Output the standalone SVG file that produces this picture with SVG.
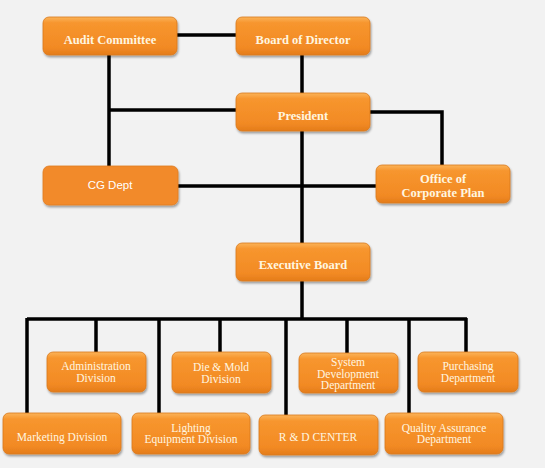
<svg xmlns="http://www.w3.org/2000/svg" width="545" height="468" viewBox="0 0 545 468">
<defs>
<linearGradient id="og" x1="0" y1="0" x2="0" y2="1">
<stop offset="0" stop-color="#fbb45a"/>
<stop offset="0.15" stop-color="#f7962e"/>
<stop offset="0.8" stop-color="#f28a24"/>
<stop offset="1" stop-color="#e47c1a"/>
</linearGradient>
<filter id="sh" x="-10%" y="-20%" width="120%" height="150%">
<feDropShadow dx="1" dy="2" stdDeviation="1.2" flood-color="#000" flood-opacity="0.35"/>
</filter>
</defs>
<style>
.b{fill:url(#og);stroke:#d9781c;stroke-width:0.8;filter:url(#sh)}
.flat{fill:#f28a2a;stroke:#e07c20;stroke-width:0.8;filter:url(#sh)}
.t{font-family:"Liberation Serif",serif;font-weight:bold;font-size:12.5px;fill:#fff6e0;text-anchor:middle}
.s{font-family:"Liberation Serif",serif;font-size:11.5px;fill:#fff6e0;text-anchor:middle}
.c{font-family:"Liberation Sans",sans-serif;font-size:11.5px;fill:#ffffff;text-anchor:middle}
.ln{stroke:#000;stroke-width:3.5;fill:none}
</style>
<rect width="545" height="468" fill="#f2f2f2"/>
<g id="connectors">
<line class="ln" x1="177" y1="35" x2="236" y2="35"/>
<line class="ln" x1="302" y1="55" x2="302" y2="93"/>
<line class="ln" x1="109" y1="55" x2="109" y2="166"/>
<line class="ln" x1="109" y1="110" x2="236" y2="110"/>
<polyline class="ln" points="370,112 442,112 442,165"/>
<line class="ln" x1="178" y1="186" x2="376" y2="186"/>
<line class="ln" x1="302" y1="131" x2="302" y2="243"/>
<line class="ln" x1="302" y1="281" x2="302" y2="319"/>
<line class="ln" x1="27" y1="319" x2="467" y2="319"/>
<line class="ln" x1="27" y1="318" x2="27" y2="413"/>
<line class="ln" x1="96" y1="318" x2="96" y2="352"/>
<line class="ln" x1="159" y1="318" x2="159" y2="413"/>
<line class="ln" x1="220" y1="318" x2="220" y2="352"/>
<line class="ln" x1="286" y1="318" x2="286" y2="415"/>
<line class="ln" x1="347" y1="318" x2="347" y2="353"/>
<line class="ln" x1="409" y1="318" x2="409" y2="413"/>
<line class="ln" x1="466" y1="318" x2="466" y2="352"/>
</g>
<g id="audit"><rect class="b" x="43" y="17" width="134" height="38" rx="6"/><text class="t" x="110" y="44">Audit Committee</text></g>
<g id="board"><rect class="b" x="236" y="17" width="134" height="38" rx="6"/><text class="t" x="303" y="44">Board of Director</text></g>
<g id="president"><rect class="b" x="236" y="93" width="134" height="38" rx="6"/><text class="t" x="303" y="120">President</text></g>
<g id="cg"><rect class="flat" x="43" y="166" width="135" height="39" rx="6"/><text class="c" x="110" y="189">CG Dept</text></g>
<g id="office"><rect class="b" x="376" y="165" width="134" height="38" rx="6"/><text class="t" x="443" y="183">Office of</text><text class="t" x="443" y="197">Corporate Plan</text></g>
<g id="exec"><rect class="b" x="236" y="243" width="134" height="38" rx="6"/><text class="t" x="303" y="269">Executive Board</text></g>
<g id="admin"><rect class="b" x="47" y="352" width="99" height="40" rx="6"/><text class="s" x="96" y="370">Administration</text><text class="s" x="96" y="382">Division</text></g>
<g id="die"><rect class="b" x="172" y="352" width="99" height="41" rx="6"/><text class="s" x="221" y="371">Die &amp; Mold</text><text class="s" x="221" y="383">Division</text></g>
<g id="system"><rect class="b" x="299" y="353" width="99" height="40" rx="6"/><text class="s" x="348" y="366">System</text><text class="s" x="348" y="378">Development</text><text class="s" x="348" y="389">Department</text></g>
<g id="purchasing"><rect class="b" x="418" y="352" width="100" height="40" rx="6"/><text class="s" x="468" y="370">Purchasing</text><text class="s" x="468" y="382">Department</text></g>
<g id="marketing"><rect class="b" x="3" y="413" width="118" height="41" rx="6"/><text class="s" x="62" y="441">Marketing Division</text></g>
<g id="lighting"><rect class="b" x="132" y="413" width="118" height="41" rx="6"/><text class="s" x="191" y="432">Lighting</text><text class="s" x="191" y="443">Equipment Division</text></g>
<g id="rd"><rect class="b" x="259" y="415" width="119" height="40" rx="6"/><text class="s" x="318" y="441">R &amp; D CENTER</text></g>
<g id="qa"><rect class="b" x="385" y="413" width="118" height="41" rx="6"/><text class="s" x="444" y="432">Quality Assurance</text><text class="s" x="444" y="443">Department</text></g>
</svg>
